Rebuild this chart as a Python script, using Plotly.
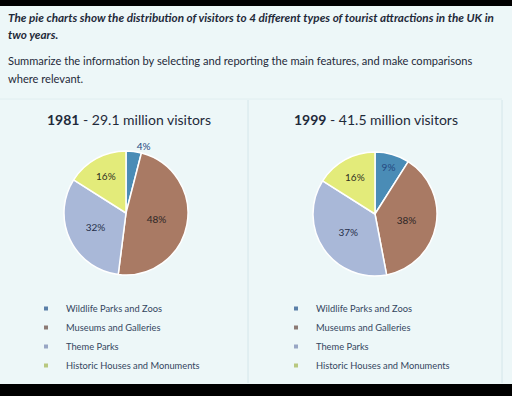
import plotly.graph_objects as go

categories = ["Wildlife Parks and Zoos", "Museums and Galleries", "Theme Parks", "Historic Houses and Monuments"]
values_1981 = [4, 48, 32, 16]
values_1999 = [9, 38, 37, 16]
title_1981 = ("1981", "29.1 million visitors")
title_1999 = ("1999", "41.5 million visitors")
colors = ["#4a8cb6", "#a97a64", "#a9b8d8", "#e3eb7a"]
legend_colors = ["#5a7fa8", "#8c7a74", "#98a6c4", "#b8c880"]

W, H = 512, 396
FONT = "Lato"
BG = "#edf7f8"

fig = go.Figure()

def px_dom(x0, x1, y0, y1):
    return dict(x=[x0 / W, x1 / W], y=[1 - y1 / H, 1 - y0 / H])

txt_cols = ["#244880", "#2e2626", "#26304a", "#30301f"]

fig.add_trace(go.Pie(
    labels=categories, values=values_1981, sort=False, direction="clockwise", rotation=0,
    marker=dict(colors=colors, line=dict(color="white", width=1.5)),
    texttemplate="%{value}%", textinfo="text",
    textposition=["outside", "inside", "inside", "inside"],
    insidetextorientation="horizontal",
    textfont=dict(family=FONT, size=10, color=txt_cols),
    outsidetextfont=dict(family=FONT, size=10, color="#244880"),
    domain=px_dom(64, 188, 151, 275), showlegend=False,
    hoverinfo="label+percent",
))
fig.add_trace(go.Pie(
    labels=categories, values=values_1999, sort=False, direction="clockwise", rotation=0,
    marker=dict(colors=colors, line=dict(color="white", width=1.5)),
    texttemplate="%{value}%", textinfo="text",
    textposition="inside",
    insidetextorientation="horizontal",
    textfont=dict(family=FONT, size=10, color=txt_cols),
    domain=px_dom(313, 437, 152, 276), showlegend=False,
    hoverinfo="label+percent",
))

for lg in ["legend", "legend2"]:
    for cat, col in zip(categories, legend_colors):
        fig.add_trace(go.Scatter(
            x=[None], y=[None], mode="markers", name=cat, legend=lg,
            marker=dict(symbol="square", size=4, color=col),
            showlegend=True, hoverinfo="skip",
        ))

leg = dict(bgcolor="rgba(0,0,0,0)", font=dict(family=FONT, size=9.3, color="#34465e"),
           xanchor="left", yanchor="top", itemclick=False, traceorder="normal")
fig.update_layout(
    width=W, height=H, margin=dict(l=0, r=0, t=0, b=0),
    paper_bgcolor=BG, plot_bgcolor=BG,
    legend=dict(leg, x=26 / W, y=1 - 294 / H),
    legend2=dict(leg, x=276 / W, y=1 - 294 / H),
    font=dict(family=FONT),
    xaxis=dict(visible=False, domain=[0, 0.01]),
    yaxis=dict(visible=False, domain=[0, 0.01]),
)

anns = [
    dict(x=6, y=17, text="<b><i>The pie charts show the distribution of visitors to 4 different types of tourist attractions in the UK in</i></b>", size=11.7),
    dict(x=6, y=34, text="<b><i>two years.</i></b>", size=11.7),
    dict(x=6, y=61, text="Summarize the information by selecting and reporting the main features, and make comparisons", size=11.1),
    dict(x=6, y=78, text="where relevant.", size=11.1),
    dict(x=45, y=119, text=f"<b>{title_1981[0]}</b> - {title_1981[1]}", size=14),
    dict(x=292, y=119, text=f"<b>{title_1999[0]}</b> - {title_1999[1]}", size=14),
]
for a in anns:
    fig.add_annotation(x=a["x"] / W, y=1 - a["y"] / H, xref="paper", yref="paper",
                       xanchor="left", yanchor="middle", showarrow=False, text=a["text"],
                       font=dict(family=FONT, size=a["size"], color="#1f2a3a"))

shapes = [
    dict(type="rect", x0=0, x1=1, y0=1 - 6 / H, y1=1, fillcolor="black", line_width=0),
    dict(type="rect", x0=0, x1=1, y0=0, y1=1 - 384 / H, fillcolor="black", line_width=0),
    dict(type="line", x0=248 / W, x1=248 / W, y0=1 - 383 / H, y1=1 - 100 / H, line=dict(color="#d4e6ea", width=1)),
    dict(type="line", x0=502 / W, x1=502 / W, y0=1 - 383 / H, y1=1 - 100 / H, line=dict(color="#d4e6ea", width=1)),
    dict(type="line", x0=0, x1=502 / W, y0=1 - 99 / H, y1=1 - 99 / H, line=dict(color="#e0eef0", width=1)),
]
for s in shapes:
    fig.add_shape(xref="paper", yref="paper", layer="below", **s)

fig.write_html("out.html", config={"displayModeBar": False},
               post_script="document.body.style.margin='0';document.body.style.overflow='hidden';")
